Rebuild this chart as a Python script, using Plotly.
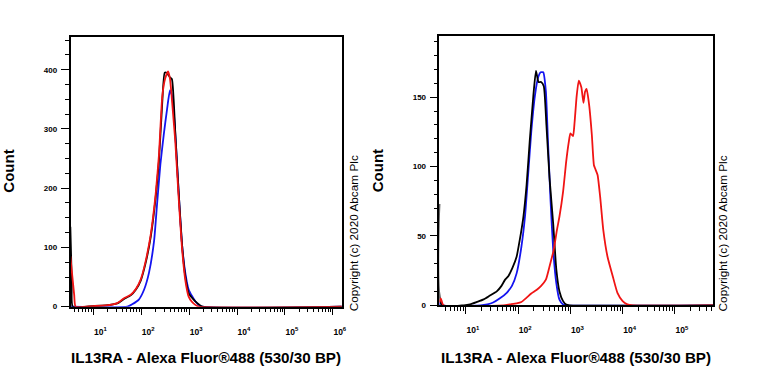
import plotly.graph_objects as go

# ---------------- data (intensity, count) ----------------
# Left panel
left_black_x = [3.31, 3.55, 3.72, 9.8, 18.2, 31.6, 43.7, 60.3, 77.6, 97.7, 123, 158, 200, 234, 275, 309, 347, 398, 437, 479, 513, 603, 708, 832, 977, 1148, 1349, 1585, 1905, 1.55e6]
left_black_y = [135, 40, 0, 1, 2, 5.5, 13, 19, 29, 44, 73, 118, 184, 245, 345, 395, 394, 387, 384, 345, 295, 195, 107, 51, 23, 15, 9, 4, 0, 0]

left_red_x = [3.31, 3.55, 3.98, 4.27, 9.8, 18.2, 31.6, 43.7, 60.3, 77.6, 97.7, 123, 158, 200, 234, 275, 316, 363, 398, 437, 479, 513, 603, 708, 832, 977, 1148, 1349, 1585, 1.55e6]
left_red_y = [85, 60, 20, 0, 1, 2, 6, 14, 20, 30, 46, 76, 122, 190, 255, 355, 385, 397, 385, 350, 310, 280, 185, 100, 45, 17, 8, 3, 0, 0]

left_blue_x = [3.31, 51.3, 64.6, 89.1, 115, 145, 186, 214, 251, 295, 347, 398, 437, 501, 603, 708, 832, 977, 1148, 1349, 1698, 1.55e6]
left_blue_y = [0, 0, 4, 12, 29, 57, 112, 173, 240, 290, 334, 365, 357, 307, 195, 107, 57, 29, 18, 9, 1, 0]

# Right panel
right_black_x = [3.1, 3.47, 9.1, 12.0, 16.2, 21.9, 28.8, 38.9, 47.9, 56.2, 64.6, 77.6, 93.3, 107, 126, 145, 166, 195, 219, 245, 275, 309, 347, 398, 468, 537, 617, 724, 832, 955, 537000]
right_black_y = [73, 0, 0, 0.7, 2.4, 4.3, 7, 10, 14, 18.5, 21, 27, 35, 47, 64, 87, 118, 151, 169, 161, 161, 158, 130, 92, 59, 26, 10, 3, 0.5, 0, 0]

right_blue_x = [3.1, 3.3, 3.6, 19.1, 25.7, 33.1, 44.7, 60.3, 75.9, 93.3, 115, 135, 155, 178, 209, 240, 269, 302, 339, 372, 417, 468, 537, 617, 724, 832, 537000]
right_blue_y = [0, 3, 0, 0, 0.7, 2, 5, 9, 14, 23, 42, 64, 94, 125, 151, 164, 168, 168, 154, 118, 75, 40, 16, 4, 0.5, 0, 0]

right_red_x = [3.1, 3.3, 3.7, 52.5, 69.2, 93.3, 115, 145, 178, 224, 275, 339, 398, 479, 550, 617, 724, 832, 933, 1000, 1122, 1202, 1318, 1445, 1622, 1778, 1905, 2042, 2291, 2570, 2818, 3020, 3311, 3715, 4266, 5129, 6457, 7943, 10000, 12303, 15488, 537000]
right_red_y = [2, 5, 0, 0, 0.7, 1.4, 2.4, 5.5, 8.5, 11, 14, 18.5, 28, 40, 54, 64, 82, 104, 118, 124, 122, 132, 151, 162, 157, 146, 154, 156, 144, 123, 101, 98, 94, 78, 54, 35, 21, 9, 3, 0.7, 0, 0]

# tick labels
left_tickvals = [10, 100, 1000, 10000, 100000, 1000000]
left_ticktext = ["10<sup>1</sup>", "10<sup>2</sup>", "10<sup>3</sup>", "10<sup>4</sup>", "10<sup>5</sup>", "10<sup>6</sup>"]
right_tickvals = [10, 100, 1000, 10000, 100000]
right_ticktext = ["10<sup>1</sup>", "10<sup>2</sup>", "10<sup>3</sup>", "10<sup>4</sup>", "10<sup>5</sup>"]

x_title = "IL13RA - Alexa Fluor®488 (530/30 BP)"
y_title = "Count"
copyright_text = "Copyright (c) 2020 Abcam Plc"

# ---------------- figure ----------------
BLACK = "#000000"
BLUE = "#1414f0"
RED = "#f01414"
FONT = "Arial, 'Liberation Sans', sans-serif"

minor_log_ticks = [k * 10 ** d for d in range(0, 7) for k in range(2, 10)]

fig = go.Figure()

def add(x, y, color, xa, ya):
    fig.add_trace(go.Scatter(x=x, y=y, mode="lines", xaxis=xa, yaxis=ya,
                             line=dict(color=color, width=1.8, shape="spline", smoothing=0.5),
                             showlegend=False, hoverinfo="skip"))

add(left_blue_x, left_blue_y, BLUE, "x", "y")
add(left_black_x, left_black_y, BLACK, "x", "y")
add(left_red_x, left_red_y, RED, "x", "y")
add(right_blue_x, right_blue_y, BLUE, "x2", "y2")
add(right_black_x, right_black_y, BLACK, "x2", "y2")
add(right_red_x, right_red_y, RED, "x2", "y2")

common_x = dict(type="log", showgrid=False, zeroline=False, showline=True, linecolor="black",
                linewidth=1.5, mirror=True, ticks="outside", ticklen=7, tickwidth=1.2,
                tickcolor="black", tickmode="array",
                tickfont=dict(family=FONT, size=8.5, color="black", weight="bold"),
                ticklabelshift=7, ticklabelstandoff=9,
                minor=dict(ticks="outside", ticklen=4, tickwidth=1, tickcolor="black",
                           tickmode="array", tickvals=minor_log_ticks))
common_y = dict(showgrid=False, zeroline=False, showline=True, linecolor="black",
                linewidth=1.5, mirror=True, ticks="outside", ticklen=8, tickwidth=1.2,
                tickcolor="black", tickfont=dict(family=FONT, size=8, color="black", weight="bold"),
                ticklabelstandoff=2)

fig.update_layout(
    width=768, height=384, margin=dict(l=0, r=0, t=0, b=0),
    paper_bgcolor="white", plot_bgcolor="white",
    xaxis=dict(common_x, domain=[0.0924, 0.4479], range=[0.523, 6.187], anchor="y",
               tickvals=left_tickvals, ticktext=left_ticktext),
    yaxis=dict(common_y, domain=[0.1909, 0.9036], range=[0, 456], anchor="x",
               tickmode="linear", tick0=0, dtick=100,
               minor=dict(ticks="outside", ticklen=4, tickwidth=1, tickcolor="black", dtick=25, tick0=0)),
    xaxis2=dict(common_x, domain=[0.5759, 0.9345], range=[0.492, 5.73], anchor="y2",
                tickvals=right_tickvals, ticktext=right_ticktext),
    yaxis2=dict(common_y, domain=[0.1945, 0.9044], range=[0, 194], anchor="x2",
                tickmode="linear", tick0=0, dtick=50,
                minor=dict(ticks="outside", ticklen=4, tickwidth=1, tickcolor="black", dtick=10, tick0=0)),
)

ann = []
for cx in (0.0117, 0.4948):
    ann.append(dict(text=y_title, x=cx, y=0.5495, xref="paper", yref="paper", showarrow=False,
                    textangle=-90, xanchor="center", yanchor="middle",
                    font=dict(family=FONT, size=15, color="black", weight="bold")))
for cx in (0.2704, 0.7546):
    ann.append(dict(text=x_title, x=cx, y=0.0555, xref="paper", yref="paper", showarrow=False,
                    xanchor="center", yanchor="middle",
                    font=dict(family=FONT, size=15.2, color="black", weight="bold")))
for cx in (0.4635, 0.9473):
    ann.append(dict(text=copyright_text, x=cx, y=0.3836, xref="paper", yref="paper", showarrow=False,
                    textangle=-90, xanchor="center", yanchor="middle",
                    font=dict(family=FONT, size=11.8, color="black")))
fig.update_layout(annotations=ann)

fig.write_html("out.html", config={"displayModeBar": False},
               post_script="document.body.style.margin='0px';")
